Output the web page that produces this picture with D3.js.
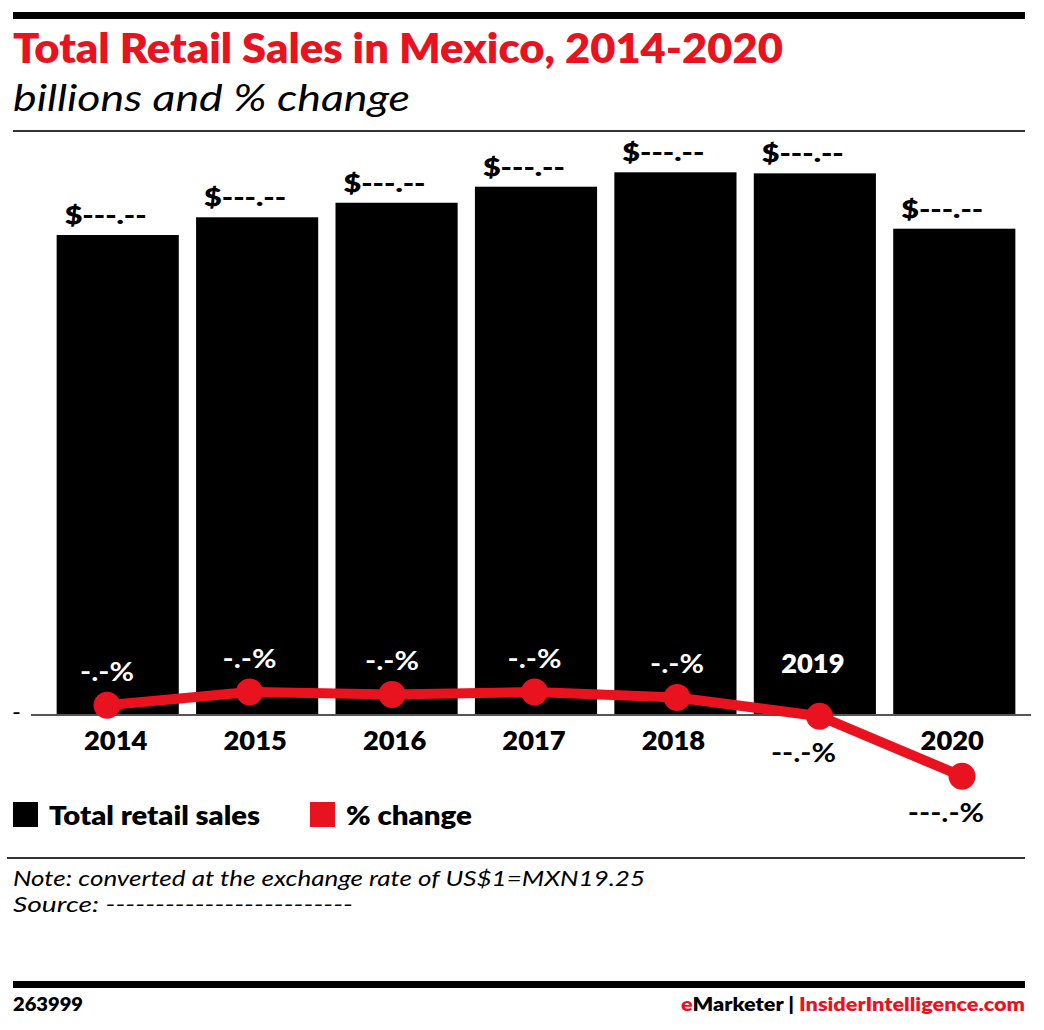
<!DOCTYPE html>
<html>
<head>
<meta charset="utf-8">
<script src="https://cdn.jsdelivr.net/npm/d3@7"></script>
<style>
  body { margin: 0; background: #fff; }
  svg text { font-family: Lato, "Open Sans", sans-serif; }
</style>
</head>
<body>
<div class="chart"></div>
<script>
// Total Retail Sales in Mexico, 2014-2020

var years = ["2014", "2015", "2016", "2017", "2018", "2019", "2020"];
var sales = [320.0, 331.8, 341.5, 352.2, 361.8, 361.1, 324.2]; // billions
var pctChange = [1.6, 3.8, 3.4, 3.8, 2.9, -0.2, -10.1];
var salesLabels = ["$---.--", "$---.--", "$---.--", "$---.--", "$---.--", "$---.--", "$---.--"];
var pctLabels = ["-.-%", "-.-%", "-.-%", "-.-%", "-.-%", "--.-%", "---.-%"];
var yTickValues = [0];
var yTickLabels = ["-"];

var svgWidth = 1044;
var svgHeight = 1030;
var red = "#e8131f";
var baseY = 715;

var svg = d3.select(".chart")
  .append("svg")
  .attr("width", svgWidth)
  .attr("height", svgHeight);

var data = years.map(function(y, i) {
  return { year: y, sales: sales[i], pct: pctChange[i], salesLabel: salesLabels[i], pctLabel: pctLabels[i] };
});

// stretch text to the width seen in the reference
function fitText(sel, len) {
  return sel.attr("textLength", len).attr("lengthAdjust", "spacingAndGlyphs");
}
// widen text by a factor (Lato runs narrower than the original face)
function widen(sel, k) {
  sel.each(function() {
    var w = this.getComputedTextLength();
    d3.select(this).attr("textLength", w * k).attr("lengthAdjust", "spacingAndGlyphs");
  });
  return sel;
}

// header
svg.append("rect").attr("x", 13).attr("y", 12).attr("width", 1012).attr("height", 7).attr("fill", "#000");
fitText(svg.append("text")
  .attr("x", 13).attr("y", 63)
  .attr("font-size", 41).attr("font-weight", 800)
  .attr("fill", red)
  .text("Total Retail Sales in Mexico, 2014-2020"), 770);
fitText(svg.append("text")
  .attr("x", 13).attr("y", 111)
  .attr("font-size", 36).attr("font-style", "italic")
  .attr("fill", "#000")
  .text("billions and % change"), 397);
svg.append("rect").attr("x", 13).attr("y", 130).attr("width", 1012).attr("height", 2).attr("fill", "#333");

// scales
var xBand = d3.scaleBand()
  .domain(years)
  .range([48, 1024])
  .paddingInner(0.124)
  .paddingOuter(0.062);

var yLinearScale = d3.scaleLinear()
  .domain([0, 380])
  .range([baseY, baseY - 570]);

var xPoint = d3.scalePoint()
  .domain(years)
  .range([107, 962]);

var yPct = d3.scaleLinear()
  .domain([-10, 0])
  .range([baseY + 60.6, baseY]);

var chart = svg.append("g");

// bars
chart.selectAll(".bar")
  .data(data)
  .enter().append("rect")
    .attr("class", "bar")
    .attr("x", function(d) { return xBand(d.year); })
    .attr("y", function(d) { return yLinearScale(d.sales); })
    .attr("width", xBand.bandwidth())
    .attr("height", function(d) { return baseY - yLinearScale(d.sales); })
    .attr("fill", "#000");

chart.selectAll(".bar-label")
  .data(data)
  .enter().append("text")
    .attr("class", "bar-label")
    .attr("x", function(d) { return xBand(d.year) + 8; })
    .attr("y", function(d) { return yLinearScale(d.sales) - 11; })
    .attr("font-size", 25).attr("font-weight", 800)
    .attr("textLength", 82).attr("lengthAdjust", "spacingAndGlyphs")
    .text(function(d) { return d.salesLabel; });

// axis line + y tick
var leftAxis = d3.axisLeft(yLinearScale)
  .tickValues(yTickValues)
  .tickSize(0)
  .tickFormat(function(d, i) { return yTickLabels[i]; });

var yAxisG = chart.append("g")
  .attr("transform", "translate(24,0)")
  .call(leftAxis);
yAxisG.select(".domain").remove();
yAxisG.selectAll("text")
  .attr("font-size", 24)
  .attr("font-family", "Lato, sans-serif")
  .attr("fill", "#000")
  .attr("dy", "0.2em");

chart.append("line")
  .attr("x1", 31).attr("x2", 1031)
  .attr("y1", baseY).attr("y2", baseY)
  .attr("stroke", "#555").attr("stroke-width", 2);

// % change line
var line = d3.line()
  .x(function(d) { return xPoint(d.year); })
  .y(function(d) { return yPct(d.pct); });

chart.append("path")
  .datum(data)
  .attr("d", line)
  .attr("fill", "none")
  .attr("stroke", red)
  .attr("stroke-width", 10);

chart.selectAll(".dot")
  .data(data)
  .enter().append("circle")
    .attr("class", "dot")
    .attr("cx", function(d) { return xPoint(d.year); })
    .attr("cy", function(d) { return yPct(d.pct); })
    .attr("r", 13.5)
    .attr("fill", red);

// year label sits inside the bar when a negative % label would collide with it
function yearInside(d) {
  return d.pct < 0 && yPct(d.pct) + 46 < 775;
}

var pctText = chart.selectAll(".pct-label")
  .data(data)
  .enter().append("text")
    .attr("class", "pct-label")
    .attr("x", function(d) { return xPoint(d.year) + (d.pct < 0 ? -16 : 0); })
    .attr("y", function(d) { return d.pct < 0 ? yPct(d.pct) + 46 : yPct(d.pct) - 24; })
    .attr("text-anchor", "middle")
    .attr("font-size", 26).attr("font-weight", 700)
    .attr("fill", function(d) { return d.pct < 0 ? "#000" : "#fff"; })
    .text(function(d) { return d.pctLabel; });
widen(pctText, 1.15);

var yearText = chart.selectAll(".year-label")
  .data(data)
  .enter().append("text")
    .attr("class", "year-label")
    .attr("x", function(d) { return xBand(d.year) + xBand.bandwidth() / 2 - 2; })
    .attr("y", function(d) { return yearInside(d) ? 673 : 750; })
    .attr("text-anchor", "middle")
    .attr("font-size", 26).attr("font-weight", 800)
    .attr("fill", function(d) { return yearInside(d) ? "#fff" : "#000"; })
    .text(function(d) { return d.year; });
widen(yearText, 1.05);

// legend
var legendItems = [
  { label: "Total retail sales", color: "#000", x: 13, len: 211 },
  { label: "% change", color: red, x: 310, len: 126 }
];
var legend = svg.selectAll(".legend")
  .data(legendItems)
  .enter().append("g")
    .attr("class", "legend")
    .attr("transform", function(d) { return "translate(" + d.x + ",802)"; });
legend.append("rect").attr("width", 25).attr("height", 25).attr("fill", function(d) { return d.color; });
legend.append("text")
  .attr("x", 36).attr("y", 23)
  .attr("font-size", 27).attr("font-weight", 800)
  .attr("textLength", function(d) { return d.len; })
  .attr("lengthAdjust", "spacingAndGlyphs")
  .text(function(d) { return d.label; });

// notes
svg.append("rect").attr("x", 7).attr("y", 857).attr("width", 1018).attr("height", 2).attr("fill", "#333");
fitText(svg.append("text")
  .attr("x", 13).attr("y", 886)
  .attr("font-size", 22).attr("font-style", "italic")
  .text("Note: converted at the exchange rate of US$1=MXN19.25"), 632);
fitText(svg.append("text")
  .attr("x", 13).attr("y", 912)
  .attr("font-size", 22).attr("font-style", "italic")
  .text("Source: -------------------------"), 340);

// footer
svg.append("rect").attr("x", 13).attr("y", 981).attr("width", 1012).attr("height", 7).attr("fill", "#000");
fitText(svg.append("text")
  .attr("x", 13).attr("y", 1011)
  .attr("font-size", 19).attr("font-weight", 800)
  .text("263999"), 70);
var brand = svg.append("text")
  .attr("x", 1025).attr("y", 1011)
  .attr("text-anchor", "end")
  .attr("font-size", 19).attr("font-weight", 800)
  .attr("textLength", 344).attr("lengthAdjust", "spacingAndGlyphs");
brand.append("tspan").attr("fill", red).text("e");
brand.append("tspan").attr("fill", "#000").text("Marketer  |  ");
brand.append("tspan").attr("fill", red).text("InsiderIntelligence.com");
</script>
</body>
</html>
